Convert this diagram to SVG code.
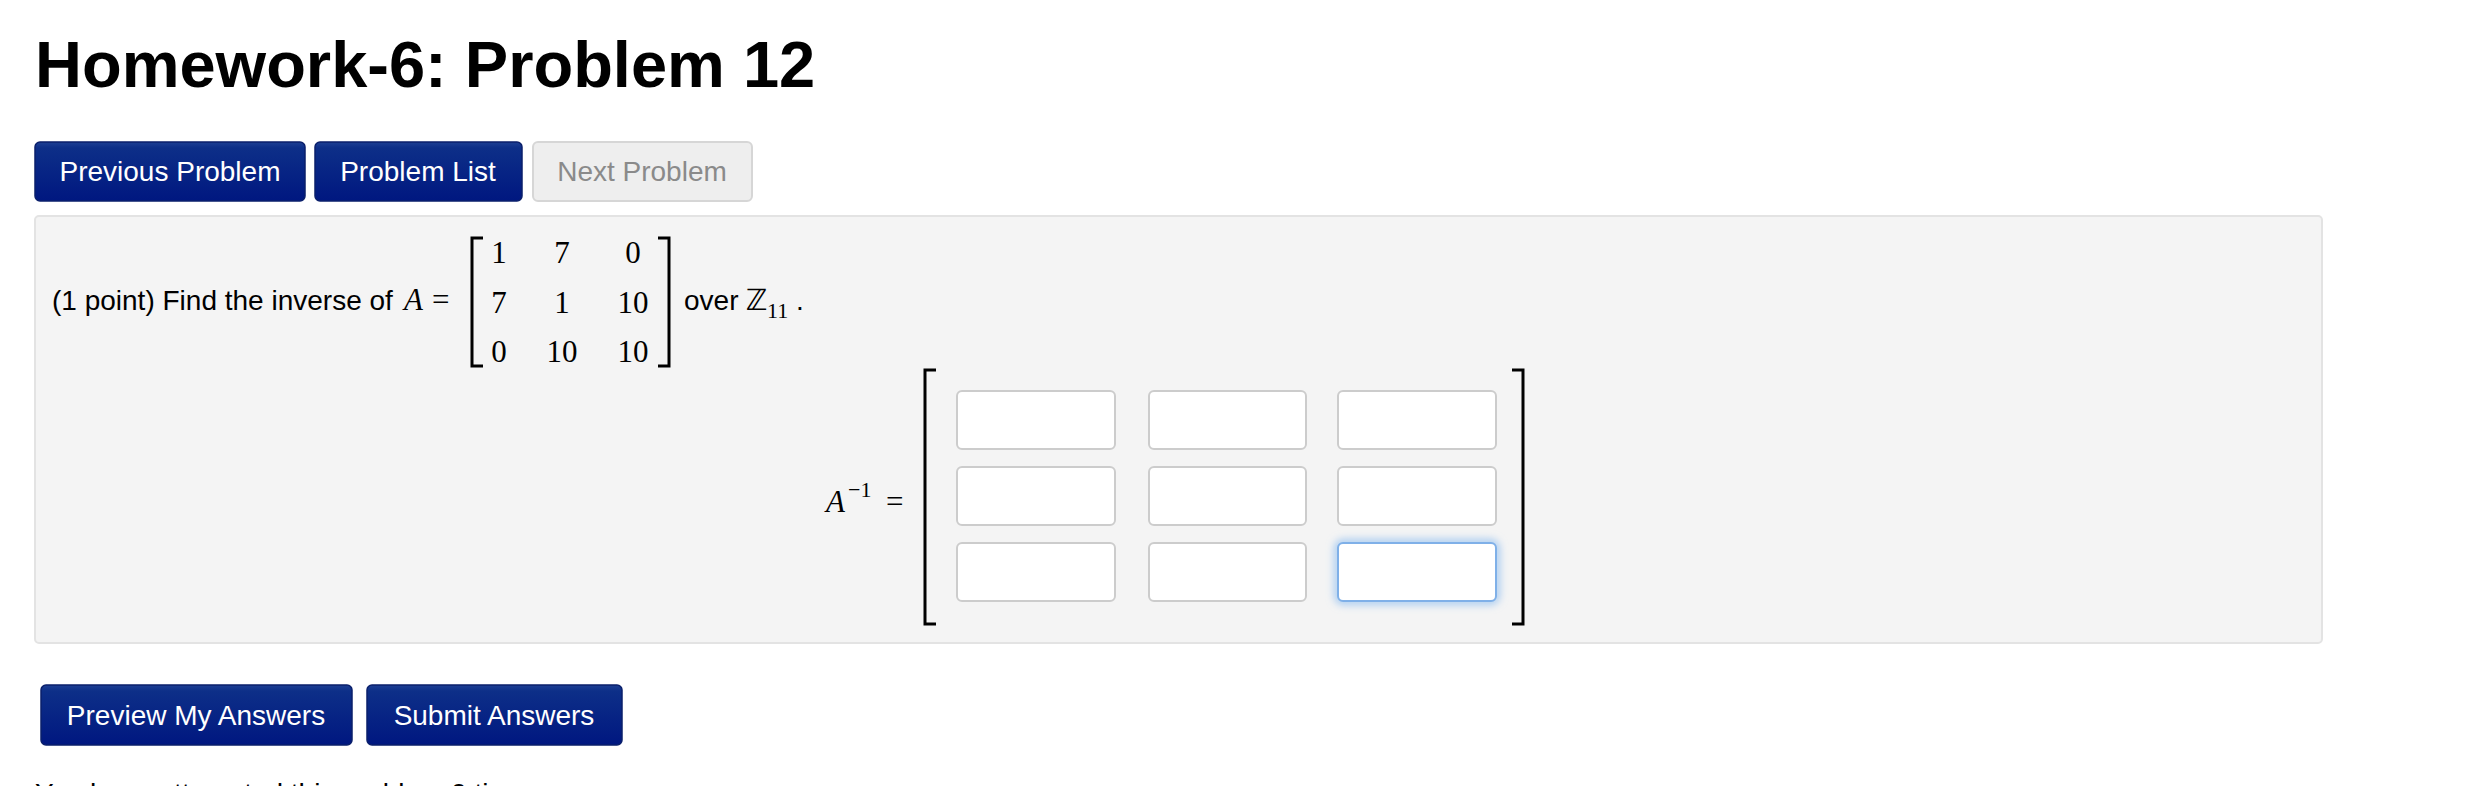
<svg xmlns="http://www.w3.org/2000/svg" width="2482" height="786" viewBox="0 0 2482 786">
<defs>
<linearGradient id="bg" x1="0" y1="0" x2="0" y2="1"><stop offset="0" stop-color="#1d3f93"/><stop offset="0.1" stop-color="#0d2f88"/><stop offset="1" stop-color="#001780"/></linearGradient>
<filter id="glow" x="-20%" y="-40%" width="140%" height="180%"><feGaussianBlur stdDeviation="4"/></filter>
</defs>
<style>
.btn{fill:url(#bg);stroke:#0a1f6b;stroke-width:1.5}
.bt{font-family:"Liberation Sans",Arial,sans-serif;font-size:28px;fill:#fff;text-anchor:middle}
.t{font-family:"Liberation Sans",Arial,sans-serif;font-size:28px;fill:#000}
.m{font-family:"Liberation Serif","Times New Roman",serif;font-size:31px;fill:#000}
.mi{font-family:"Liberation Serif","Times New Roman",serif;font-size:31px;font-style:italic;fill:#000}
.br{fill:none;stroke:#000;stroke-width:3}
.box{fill:#fff;stroke:#ccc;stroke-width:2}
</style>
<rect width="2482" height="786" fill="#fff"/>
<text x="35" y="87" font-family="Liberation Sans,Arial,sans-serif" font-weight="bold" font-size="65" fill="#000">Homework-6: Problem 12</text>
<g id="btn-prev"><rect class="btn" x="35" y="142" width="270" height="59" rx="5"/><text class="bt" x="170" y="181">Previous Problem</text></g>
<g id="btn-list"><rect class="btn" x="315" y="142" width="207" height="59" rx="5"/><text class="bt" x="418" y="181">Problem List</text></g>
<g id="btn-next"><rect x="533" y="142" width="219" height="59" rx="5" fill="#eee" stroke="#d6d6d6" stroke-width="2"/><text class="bt" x="642" y="181" style="fill:#8a8a8a">Next Problem</text></g>
<g id="panel"><rect x="35" y="216" width="2287" height="427" rx="4" fill="#f4f4f4" stroke="#e3e3e3" stroke-width="2"/></g>
<g id="question">
<text class="t" x="52" y="310">(1 point) Find the inverse of</text>
<text class="mi" x="404" y="310">A</text>
<text class="m" x="432" y="310">=</text>
<path class="br" d="M483,238 H472 V366 H483"/>
<path class="br" d="M658,238 H669 V366 H658"/>
<text class="m" x="499" y="263" text-anchor="middle">1</text><text class="m" x="562" y="263" text-anchor="middle">7</text><text class="m" x="633" y="263" text-anchor="middle">0</text>
<text class="m" x="499" y="313" text-anchor="middle">7</text><text class="m" x="562" y="313" text-anchor="middle">1</text><text class="m" x="633" y="313" text-anchor="middle">10</text>
<text class="m" x="499" y="362" text-anchor="middle">0</text><text class="m" x="562" y="362" text-anchor="middle">10</text><text class="m" x="633" y="362" text-anchor="middle">10</text>
<text class="t" x="684" y="310">over</text>
<text x="746" y="310" font-family="DejaVu Sans,sans-serif" font-size="29" fill="#000">ℤ</text>
<text class="m" x="767" y="318" style="font-size:22px">11</text>
<text class="t" x="796" y="310">.</text>
</g>
<g id="answer">
<text class="mi" x="826" y="512">A</text>
<text class="m" x="848" y="497" style="font-size:22px">−1</text>
<text class="m" x="886" y="512">=</text>
<path class="br" d="M936,370 H925 V624 H936"/>
<path class="br" d="M1512,370 H1523 V624 H1512"/>
<rect class="box" x="957" y="391" width="158" height="58" rx="5"/>
<rect class="box" x="1149" y="391" width="157" height="58" rx="5"/>
<rect class="box" x="1338" y="391" width="158" height="58" rx="5"/>
<rect class="box" x="957" y="467" width="158" height="58" rx="5"/>
<rect class="box" x="1149" y="467" width="157" height="58" rx="5"/>
<rect class="box" x="1338" y="467" width="158" height="58" rx="5"/>
<rect class="box" x="957" y="543" width="158" height="58" rx="5"/>
<rect class="box" x="1149" y="543" width="157" height="58" rx="5"/>
<rect x="1338" y="543" width="158" height="58" rx="5" fill="none" stroke="#8fbef0" stroke-width="6" filter="url(#glow)"/>
<rect x="1338" y="543" width="158" height="58" rx="5" fill="#fff" stroke="#7fb0e8" stroke-width="2"/>
</g>
<g id="btn-preview"><rect class="btn" x="41" y="685" width="311" height="60" rx="5"/><text class="bt" x="196" y="725">Preview My Answers</text></g>
<g id="btn-submit"><rect class="btn" x="367" y="685" width="255" height="60" rx="5"/><text class="bt" x="494" y="725">Submit Answers</text></g>
<text class="t" x="35" y="803">You have attempted this problem 0 times.</text>
</svg>
